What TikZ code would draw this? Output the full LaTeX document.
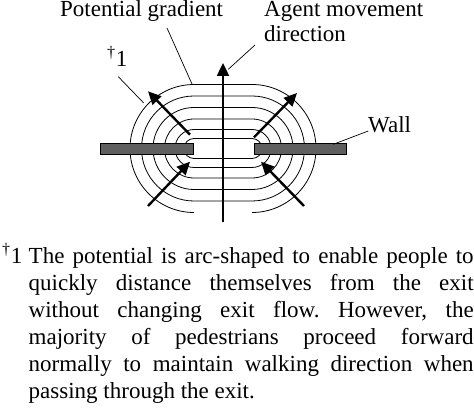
\documentclass[tikz,border=0pt]{standalone}
\usepackage{fontspec}
\setmainfont{Liberation Serif}
\usepackage{xcolor}
\usetikzlibrary{arrows.meta}
\definecolor{wallgray}{RGB}{95,95,95}
\frenchspacing
\newcommand{\noteline}[1]{\makebox[445pt][s]{#1}}

\begin{document}
\begin{tikzpicture}[x=1pt,y=1pt,
  contour/.style={line width=0.8pt},
  leader/.style={line width=0.7pt},
  wallbar/.style={fill=wallgray,draw=black,line width=0.8pt},
  agentarrow/.style={line width=2.4pt,-{Triangle[length=13pt,width=12pt]}},
  lbl/.style={inner sep=0pt,font=\fontsize{23}{27}\selectfont}]
\useasboundingbox (0,0) rectangle (474,410);

% labels
\node[lbl,anchor=base west] (pg) at (60,393) {Potential gradient};
\node[lbl,anchor=base west] (am) at (264,393) {Agent movement};
\node[lbl,anchor=base west] (amdir) at (264,368) {direction};
\node[lbl,anchor=base west] (dg) at (107,343) {\textsuperscript{†}1};
\node[lbl,anchor=base west] (wl) at (368,277) {Wall};

% potential contours
\draw[contour] (194,271.5) -- (252,271.5) arc[start angle=90,end angle=-90,radius=10] -- (194,251.5) arc[start angle=270,end angle=90,radius=10] -- cycle;
\draw[contour] (194,280.5) -- (252,280.5) arc[start angle=90,end angle=-90,radius=19] -- (194,242.5) arc[start angle=270,end angle=90,radius=19] -- cycle;
\draw[contour] (194,291) -- (252,291) arc[start angle=90,end angle=-90,radius=29.5] -- (194,232) arc[start angle=270,end angle=90,radius=29.5] -- cycle;
\draw[contour] (194,302.5) -- (252,302.5) arc[start angle=90,end angle=-90,radius=41] -- (194,220.5) arc[start angle=270,end angle=90,radius=41] -- cycle;
\draw[contour] (194,314) -- (252,314) arc[start angle=90,end angle=-90,radius=52.5] -- (194,209) arc[start angle=270,end angle=90,radius=52.5] -- cycle;
\draw[contour] (194,197.5) arc[start angle=270,end angle=90,radius=64] -- (252,325.5) arc[start angle=90,end angle=-90,radius=64];

% wall
\draw[wallbar] (100,256) rectangle (193,267);
\draw[wallbar] (254,256) rectangle (346.5,267);

% agent arrows
\coordinate (upTail) at (223,187.5);
\coordinate (upTip) at (223,347);
\coordinate (ulTail) at (190,275.3);
\coordinate (ulTip) at (148,318.7);
\coordinate (urTail) at (254,272.7);
\coordinate (urTip) at (297,317);
\coordinate (llTail) at (148,204);
\coordinate (llTip) at (190,248.3);
\coordinate (lrTail) at (304,204);
\coordinate (lrTip) at (261,248.3);
\draw[agentarrow] (upTail) -- (upTip);
\draw[agentarrow] (ulTail) -- (ulTip);
\draw[agentarrow] (urTail) -- (urTip);
\draw[agentarrow] (llTail) -- (llTip);
\draw[agentarrow] (lrTail) -- (lrTip);

% leaders
\coordinate (pgFrom) at (167,382);
\coordinate (pgTo) at (192,326);
\coordinate (dgFrom) at (118.3,333.3);
\coordinate (dgTo) at (143.7,307);
\coordinate (amFrom) at (255,365);
\coordinate (amTo) at (228.3,340.7);
\coordinate (wlFrom) at (368.3,279);
\coordinate (wlTo) at (333.3,265.7);
\draw[leader] (pgFrom) -- (pgTo);
\draw[leader] (dgFrom) -- (dgTo);
\draw[leader] (amFrom) -- (amTo);
\draw[leader] (wlFrom) -- (wlTo);

% footnote
\node[lbl,anchor=base west] (notemark) at (2,146.7) {\textsuperscript{†}1};
\node[lbl,anchor=north west,align=left] (note) at (28.5,162.5) {\noteline{The potential is arc-shaped to enable people to}\\
  \noteline{quickly distance themselves from the exit}\\
  \noteline{without changing exit flow. However, the}\\
  \noteline{majority of pedestrians proceed forward}\\
  \noteline{normally to maintain walking direction when}\\
  passing through the exit.};
\end{tikzpicture}
\end{document}
